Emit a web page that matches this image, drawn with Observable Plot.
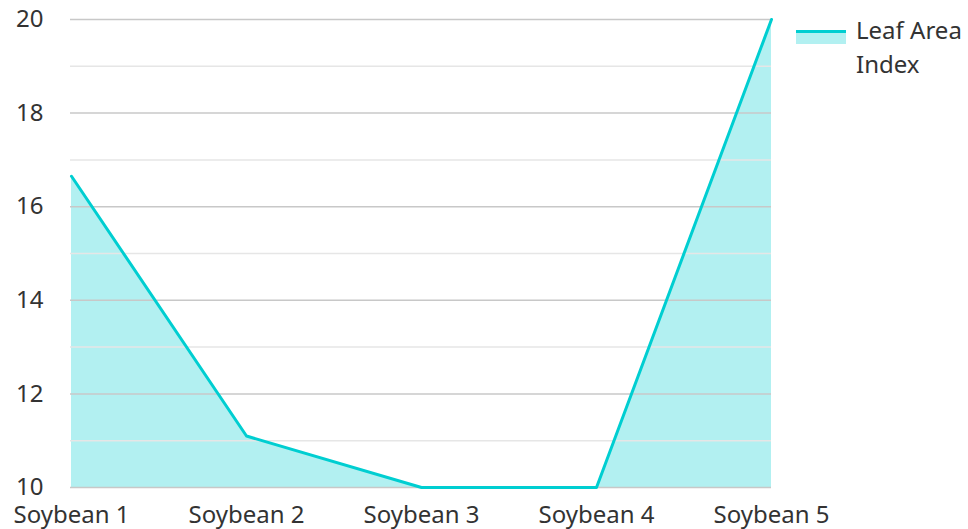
<!DOCTYPE html>
<html>
<head>
<meta charset="utf-8">
<script src="https://cdn.jsdelivr.net/npm/d3@7"></script>
<script src="https://cdn.jsdelivr.net/npm/@observablehq/plot@0.6"></script>
<style>
  body { margin: 0; background: #fff; font-family: "Noto Sans", sans-serif; }
  #wrap { position: relative; width: 968px; height: 529px; }
  #legend { position: absolute; left: 796px; top: 13px; display: flex; align-items: flex-start; font-size: 24px; color: #333; line-height: 34px; white-space: nowrap; }
  #legend .sw { width: 50px; height: 14px; margin-top: 17px; margin-right: 10px; background: rgba(0,206,209,0.3); border-top: 3px solid #00CED1; box-sizing: border-box; }
</style>
</head>
<body>
<div id="wrap"><div id="chart"></div><div id="legend"><div class="sw"></div><div>Leaf Area<br>Index</div></div></div>
<script>
const categories = ["Soybean 1", "Soybean 2", "Soybean 3", "Soybean 4", "Soybean 5"];
const leafAreaIndex = [16.65, 11.1, 10, 10, 20];
const majorTicks = [10, 12, 14, 16, 18, 20];
const minorTicks = [11, 13, 15, 17, 19];

const data = categories.map((c, i) => ({ cat: c, v: leafAreaIndex[i] }));
const color = "#00CED1";

const chart = Plot.plot({
  width: 968,
  height: 529,
  marginLeft: 70,
  marginRight: 197,
  marginTop: 19,
  marginBottom: 42,
  style: { fontFamily: "Noto Sans, sans-serif", color: "#333", background: "transparent", overflow: "visible" },
  x: { type: "point", domain: categories, padding: 0, label: null },
  y: { domain: [10, 20], label: null },
  marks: [
    Plot.areaY(data, { x: "cat", y1: 10, y2: "v", fill: color, fillOpacity: 0.3 }),
    Plot.ruleY(minorTicks, { stroke: "#e6e6e6", strokeWidth: 1.5 }),
    Plot.ruleY(majorTicks, { stroke: "#c8c8c8", strokeWidth: 1.5 }),
    Plot.lineY(data, { x: "cat", y: "v", stroke: color, strokeWidth: 3 }),
    Plot.axisX({ tickSize: 0, tickPadding: 18, fontSize: 24, label: null }),
    Plot.axisY({ ticks: majorTicks, tickSize: 0, tickPadding: 27, fontSize: 24, label: null })
  ]
});
document.getElementById("chart").appendChild(chart);
</script>
</body>
</html>
